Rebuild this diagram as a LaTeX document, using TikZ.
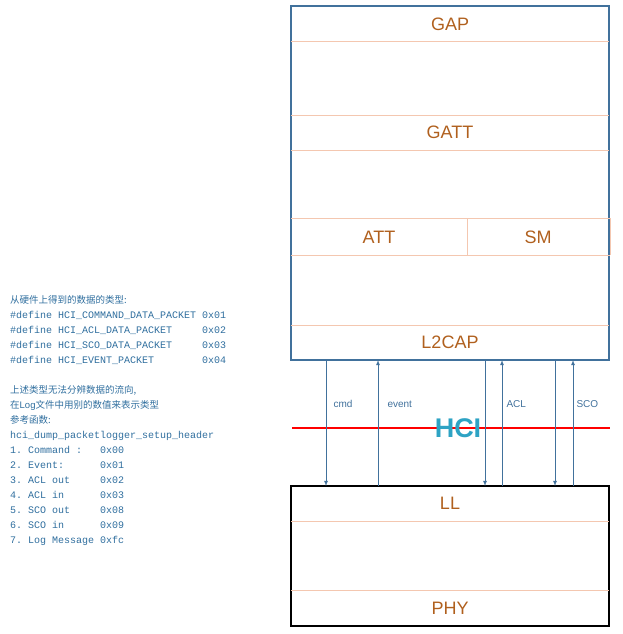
\documentclass[tikz,border=0pt]{standalone}
\usepackage{fontspec}
\setmainfont{Liberation Sans}
\setmonofont{Liberation Mono}
\newfontfamily\cjk{Noto Sans CJK SC}
\usetikzlibrary{positioning}
\definecolor{lblue}{HTML}{41719C}
\definecolor{lorange}{HTML}{B0601E}
\definecolor{lpeach}{HTML}{F4C7B0}
\definecolor{ltext}{HTML}{2F6E9E}
\definecolor{hcicol}{HTML}{2EA3C4}
\tikzset{
  layer/.style={text=lorange, font=\fontsize{18}{18}\selectfont},
  sep/.style={draw=lpeach, line width=1pt},
  flow/.style={draw=lblue, line width=0.8pt, -latex},
  flowlbl/.style={text=lblue, font=\fontsize{10}{10}\selectfont, anchor=west}
}
\begin{document}
\begin{tikzpicture}[x=1pt,y=-1pt]
\useasboundingbox (0,0) rectangle (623,634);

% ======================================
% HOST STACK
% ======================================
\node[draw=lblue, line width=1.2pt, minimum width=318pt, minimum height=354pt, inner sep=0pt] (host) at (450,183) {};
\draw[sep] (291,42) -- (609,42);
\draw[sep] (291,115) -- (609,115);
\draw[sep] (291,150) -- (609,150);
\draw[sep] (291,218) -- (610,218);
\draw[sep] (291,255) -- (610,255);
\draw[sep] (467,218) -- (467,255);
\draw[sep] (610,218) -- (610,255);
\draw[sep] (291,325) -- (609,325);
\node[layer] (gap) at (450,24) {GAP};
\node[layer] (gatt) at (450,132) {GATT};
\node[layer] (att) at (379,237) {ATT};
\node[layer] (sm) at (538,237) {SM};
\node[layer] (l2cap) at (450,342) {L2CAP};

% ======================================
% CONTROLLER
% ======================================
\node[draw=black, line width=1.2pt, minimum width=318pt, minimum height=140pt, inner sep=0pt] (ctrl) at (450,556) {};
\draw[sep] (291,521) -- (609,521);
\draw[sep] (291,590) -- (609,590);
\node[layer] (ll) at (450,503) {LL};
\node[layer] (phy) at (450,608) {PHY};

% ======================================
% HCI
% ======================================
\coordinate (hcil) at (292,428);
\coordinate (hcir) at (610,428);
\draw[red, line width=2pt] (hcil) -- (hcir);
\node[text=hcicol, font=\bfseries\fontsize{27}{27}\selectfont] (hci) at (458,428) {HCI};

\foreach \name/\x in {cmd/326, evt/378, acld/485, aclu/502, scod/555, scou/573} {
  \coordinate (\name top) at (\x,360);
  \coordinate (\name bot) at (\x,486);
}
\draw[flow] (cmdtop) -- (cmdbot);
\draw[flow] (evtbot) -- (evttop);
\draw[flow] (acldtop) -- (acldbot);
\draw[flow] (aclubot) -- (aclutop);
\draw[flow] (scodtop) -- (scodbot);
\draw[flow] (scoubot) -- (scoutop);
\node[flowlbl] (cmdl) at (330,404) {cmd};
\node[flowlbl] (evtl) at (384,404) {event};
\node[flowlbl] (acll) at (503,404) {ACL};
\node[flowlbl] (scol) at (573,404) {SCO};

% ======================================
% NOTES
% ======================================
\node[text=ltext, anchor=north west, align=left, inner sep=0pt,
      font=\ttfamily\fontsize{10}{15}\selectfont] (notes) at (10,295) {%
{\cjk\fontsize{9.5}{15}\selectfont 从硬件上得到的数据的类型:}\\
\#define HCI\_COMMAND\_DATA\_PACKET 0x01\\
\#define HCI\_ACL\_DATA\_PACKET~~~~~0x02\\
\#define HCI\_SCO\_DATA\_PACKET~~~~~0x03\\
\#define HCI\_EVENT\_PACKET~~~~~~~~0x04\\[15pt]
{\cjk\fontsize{9.5}{15}\selectfont 上述类型无法分辨数据的流向,}\\
{\cjk\fontsize{9.5}{15}\selectfont 在}{\fontsize{9.5}{15}\rmfamily Log}{\cjk\fontsize{9.5}{15}\selectfont 文件中用别的数值来表示类型}\\
{\cjk\fontsize{9.5}{15}\selectfont 参考函数:}\\
hci\_dump\_packetlogger\_setup\_header\\
1. Command :~~~0x00\\
2. Event:~~~~~~0x01\\
3. ACL out~~~~~0x02\\
4. ACL in~~~~~~0x03\\
5. SCO out~~~~~0x08\\
6. SCO in~~~~~~0x09\\
7. Log Message 0xfc};
\end{tikzpicture}
\end{document}
